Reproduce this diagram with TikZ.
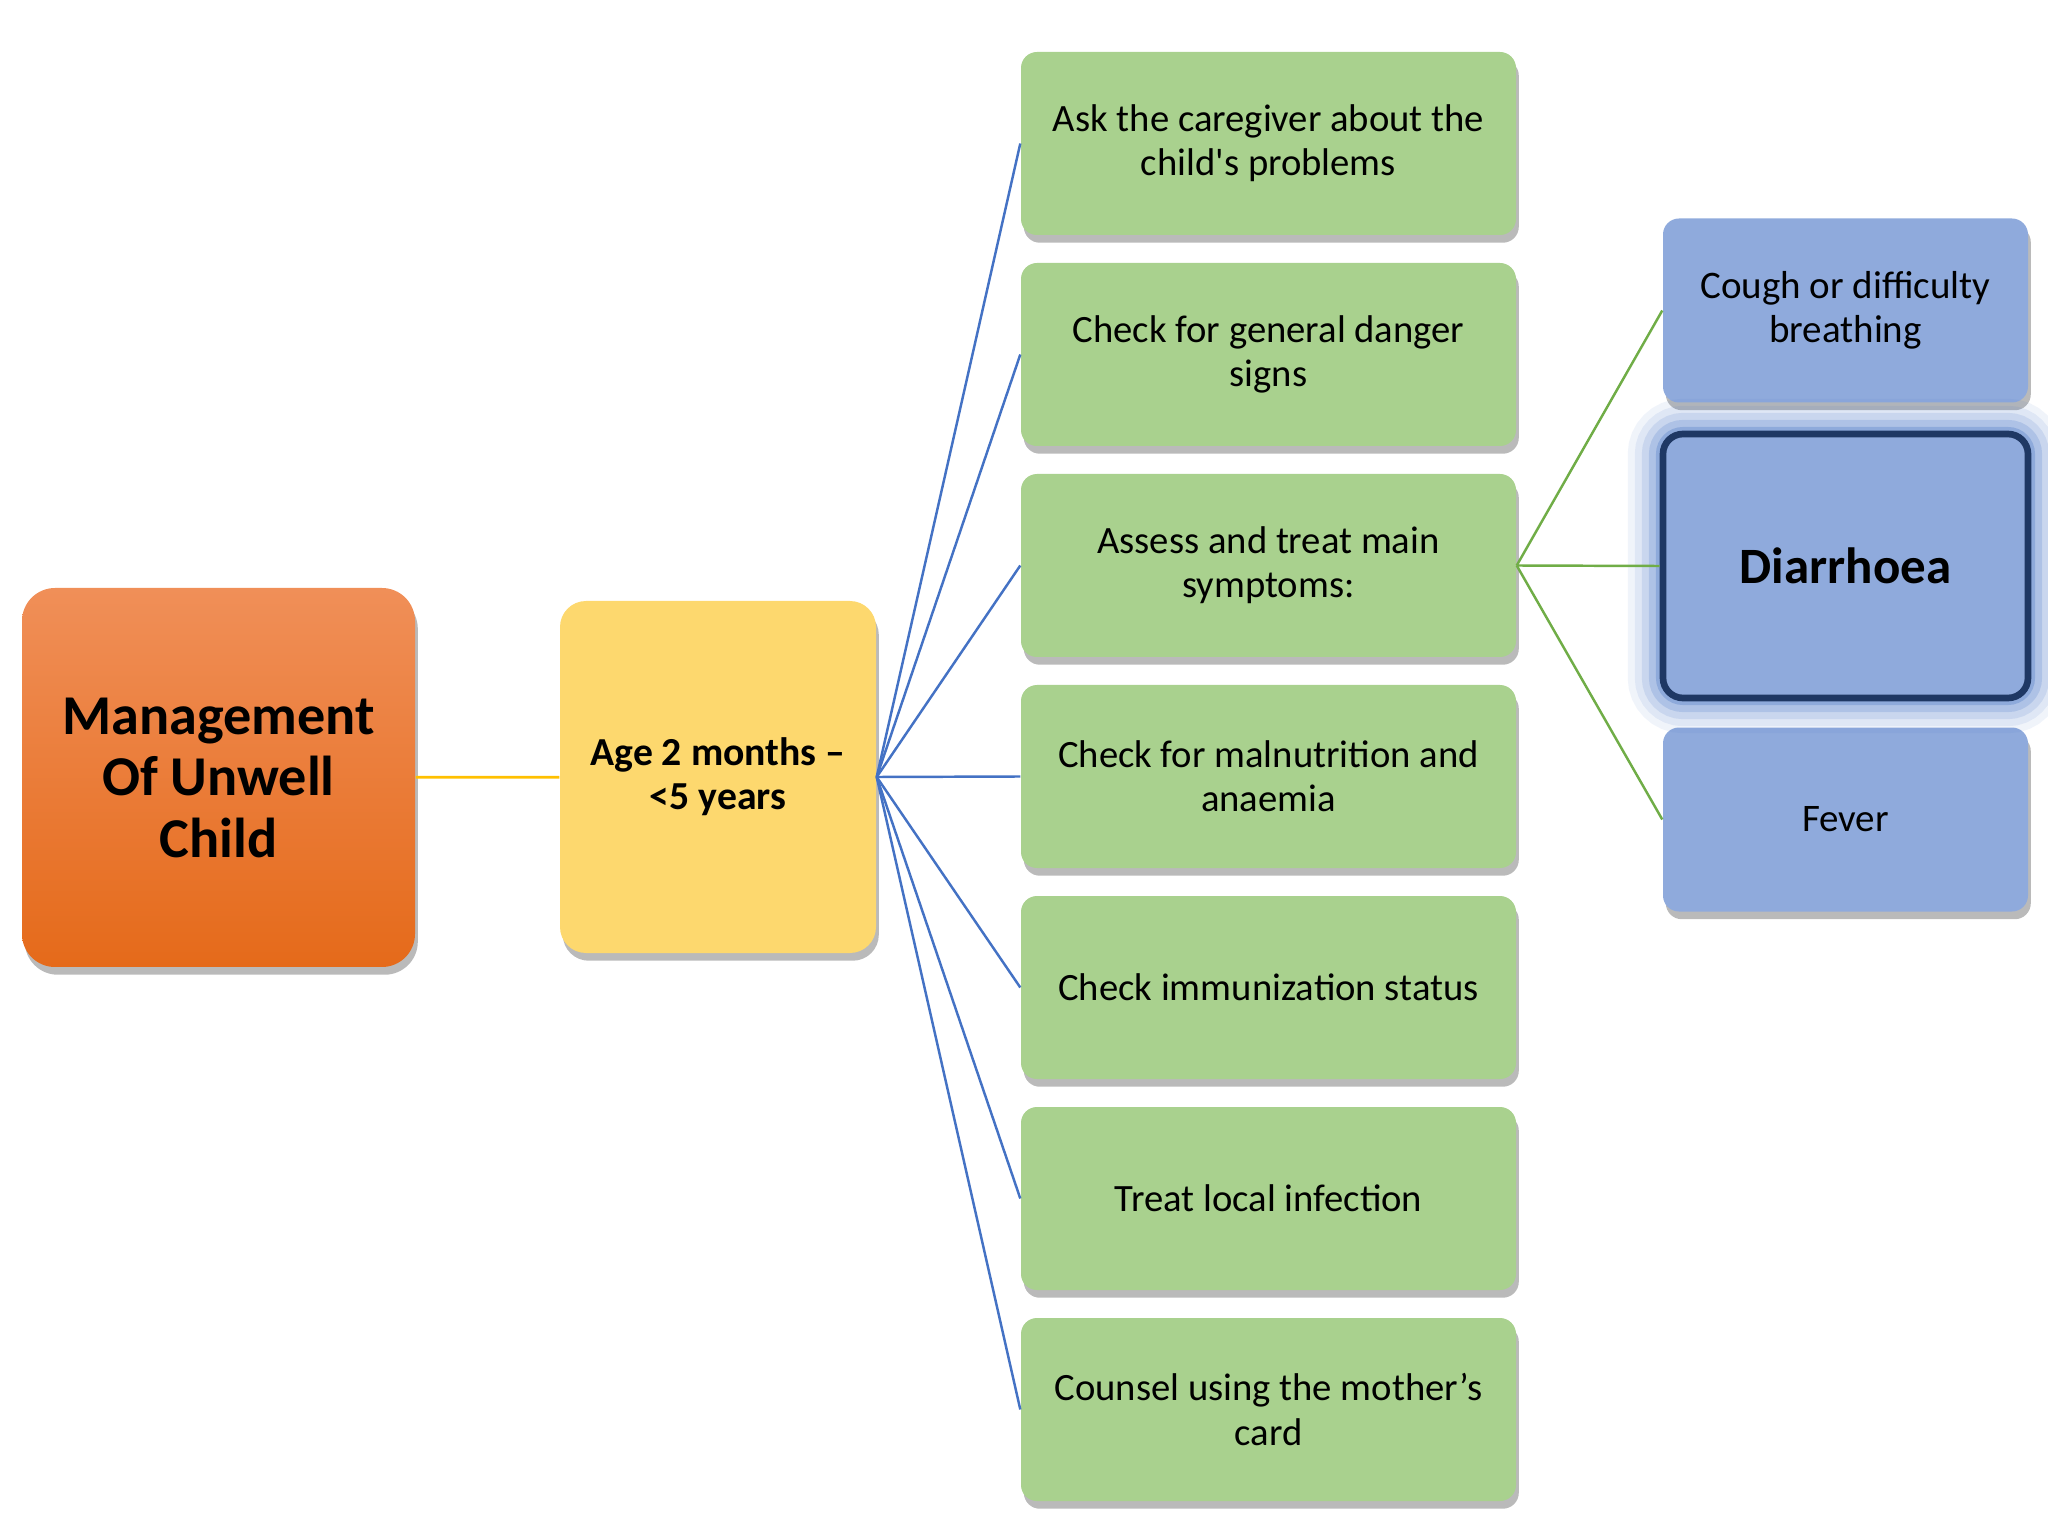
\documentclass[tikz,border=0pt]{standalone}
\usepackage{fontspec}
\setmainfont{Carlito}[Ligatures=TeXOff]
\usetikzlibrary{shadows}
\definecolor{orangetop}{RGB}{240,143,88}
\definecolor{orangebot}{RGB}{229,106,26}
\definecolor{agefill}{RGB}{253,216,110}
\definecolor{stepfill}{RGB}{169,209,142}
\definecolor{signfill}{RGB}{143,170,220}
\definecolor{signline}{RGB}{31,56,100}
\definecolor{glowblue}{RGB}{68,114,196}
\definecolor{linkblue}{RGB}{68,114,196}
\definecolor{linkgreen}{RGB}{112,173,71}
\definecolor{linkgold}{RGB}{255,192,0}
\tikzset{
  boxshadow/.style={drop shadow={shadow xshift=0.8pt, shadow yshift=-2.2pt, opacity=0.45, fill=black!60}},
  rootbox/.style={rounded corners=0.33cm, top color=orangetop, bottom color=orangebot, minimum width=3.93cm, minimum height=3.79cm, align=center, font=\bfseries\fontsize{16}{17.5}\selectfont, boxshadow},
  agebox/.style={rounded corners=0.26cm, fill=agefill, minimum width=3.16cm, minimum height=3.52cm, align=center, font=\bfseries\fontsize{11.3}{12.6}\selectfont, boxshadow},
  stepbox/.style={rounded corners=0.16cm, fill=stepfill, minimum width=4.95cm, minimum height=1.83cm, align=center, font=\fontsize{11}{12.6}\selectfont, boxshadow},
  signbox/.style={rounded corners=0.16cm, fill=signfill, minimum width=3.65cm, minimum height=1.84cm, align=center, font=\fontsize{11.1}{12.6}\selectfont, boxshadow},
  keybox/.style={rounded corners=0.2cm, fill=signfill, draw=signline, line width=1.9pt, minimum width=3.65cm, minimum height=2.64cm, align=center, font=\bfseries\fontsize{14.5}{16}\selectfont,
    preaction={draw=glowblue, line width=20pt, opacity=0.08},
    preaction={draw=glowblue, line width=16pt, opacity=0.1},
    preaction={draw=glowblue, line width=12pt, opacity=0.14},
    preaction={draw=glowblue, line width=8pt, opacity=0.2},
    preaction={draw=glowblue, line width=4pt, opacity=0.3}},
  bluelink/.style={draw=linkblue, line width=0.7pt},
  greenlink/.style={draw=linkgreen, line width=0.7pt},
  goldlink/.style={draw=linkgold, line width=0.8pt}
}
\begin{document}
\begin{tikzpicture}
\useasboundingbox (0,0) rectangle (20.48,-15.36);
\node[rootbox] (root) at (2.185,-7.775) {Management\\Of Unwell\\Child};
\node[agebox] (age) at (7.18,-7.77) {Age 2 months –\\<5 years};
\node[stepbox] (ask) at (12.685,-1.435) {Ask the caregiver about the\\child's problems};
\node[stepbox] (danger) at (12.685,-3.545) {Check for general danger\\signs};
\node[stepbox] (assess) at (12.685,-5.655) {Assess and treat main\\symptoms:};
\node[stepbox] (nutri) at (12.685,-7.765) {Check for malnutrition and\\anaemia};
\node[stepbox] (immun) at (12.685,-9.875) {Check immunization status};
\node[stepbox] (local) at (12.685,-11.985) {Treat local infection};
\node[stepbox] (counsel) at (12.685,-14.095) {Counsel using the mother’s\\card};
\node[signbox] (cough) at (18.455,-3.105) {Cough or difficulty\\breathing};
\node[signbox] (fever) at (18.455,-8.195) {Fever};
\node[keybox] (diarr) at (18.455,-5.66) {Diarrhoea};
\draw[goldlink] (root) -- (age);
\draw[bluelink] (age.east) -- (ask.west);
\draw[bluelink] (age.east) -- (danger.west);
\draw[bluelink] (age.east) -- (assess.west);
\draw[bluelink] (age.east) -- (nutri.west);
\draw[bluelink] (age.east) -- (immun.west);
\draw[bluelink] (age.east) -- (local.west);
\draw[bluelink] (age.east) -- (counsel.west);
\draw[greenlink] (assess.east) -- (cough.west);
\draw[greenlink] (assess.east) -- (diarr.west);
\draw[greenlink] (assess.east) -- (fever.west);
\end{tikzpicture}
\end{document}
